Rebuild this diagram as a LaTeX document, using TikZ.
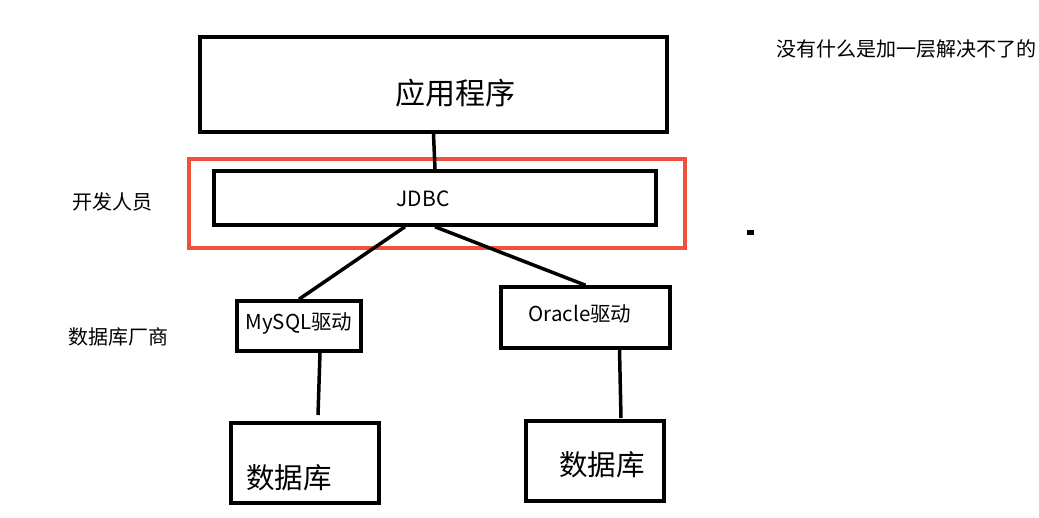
\documentclass[tikz,border=0pt]{standalone}
\usepackage{fontspec}
\newfontfamily\cjk{Noto Sans CJK SC}
\begin{document}
\begin{tikzpicture}[x=1pt,y=-1pt,
 box/.style={draw=black,line width=3.5pt,inner sep=0pt},
 conn/.style={line width=3.5pt,black},
 lab/.style={font=\cjk\fontsize{20}{22}\selectfont}]
\useasboundingbox (0,0) rectangle (1039,517);
\node[box,minimum width=467pt,minimum height=95pt] (app) at (433.5,84.5) {};
\node[font=\cjk\fontsize{30}{34}\selectfont] (appt) at (455,93) {应用程序};
\draw[line width=4.5pt,draw={rgb,255:red,240;green,80;blue,60}] (189,159) rectangle (685,248);
\node[box,minimum width=442pt,minimum height=54pt] (jdbc) at (435,198) {};
\node[font=\cjk\fontsize{21}{24}\selectfont] (jdbct) at (423,199) {JDBC};
\node[box,minimum width=124pt,minimum height=50pt] (mysql) at (299,326) {};
\node[font=\cjk\fontsize{20.5}{24}\selectfont] (mysqlt) at (299,323) {MySQL驱动};
\node[box,minimum width=169pt,minimum height=61pt] (oracle) at (585.5,317.5) {};
\node[font=\cjk\fontsize{20.5}{24}\selectfont] (oraclet) at (580,314) {Oracle驱动};
\node[box,minimum width=148pt,minimum height=80pt] (db1) at (305,463) {};
\node[font=\cjk\fontsize{28.5}{32}\selectfont] (db1t) at (289,478) {数据库};
\node[box,minimum width=138pt,minimum height=80pt] (db2) at (595,461) {};
\node[font=\cjk\fontsize{28.5}{32}\selectfont] (db2t) at (602,465) {数据库};
\coordinate (e1) at (318,415);
\coordinate (e2) at (621,418);
\draw[conn] (app.south) -- (jdbc.north);
\draw[conn] ([xshift=-30pt]jdbc.south) -- (mysql.north);
\draw[conn] (jdbc.south) -- (oracle.north);
\draw[conn] ([xshift=21pt]mysql.south) -- (e1);
\draw[conn] ([xshift=34pt]oracle.south) -- (e2);
\node[lab] (t1) at (112,202) {开发人员};
\node[lab] (t2) at (118,337) {数据库厂商};
\node[lab] (t3) at (906,49) {没有什么是加一层解决不了的};
\fill (747,230) rectangle (754,235);
\end{tikzpicture}
\end{document}
